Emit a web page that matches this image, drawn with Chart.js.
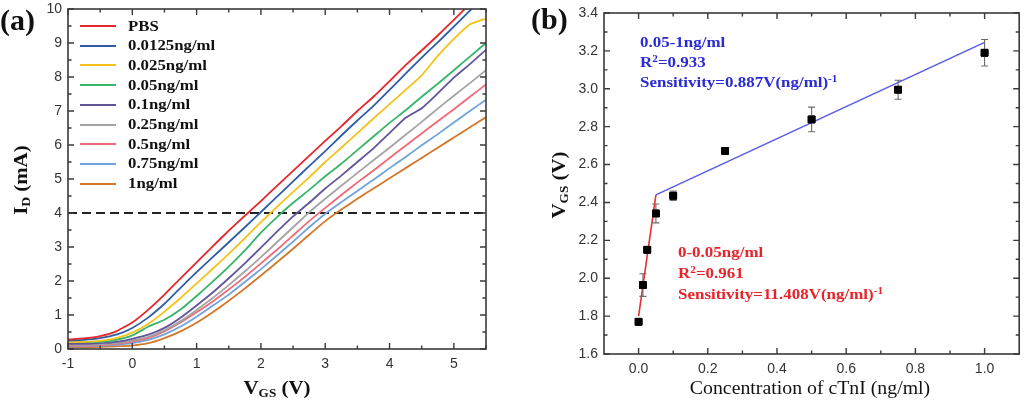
<!DOCTYPE html>
<html>
<head>
<meta charset="utf-8">
<script src="https://cdn.jsdelivr.net/npm/chart.js@4.4.0/dist/chart.umd.min.js"></script>
<style>
  html, body { margin: 0; padding: 0; background: #fff; }
  #wrap { position: relative; width: 1025px; height: 402px; overflow: hidden; font-family: "Liberation Serif", "Times New Roman", serif; color: #111; }
  canvas { position: absolute; top: 0; }
  #ca { left: 0; }
  #cb { left: 520px; }
  .txt { position: absolute; white-space: nowrap; line-height: 1; }
  .panel { font-weight: bold; font-size: 30px; }
  .ttl { font-weight: bold; font-size: 19px; transform: translate(-50%, -50%) scaleX(1.1); }
  .ttl.rot { transform: translate(-50%, -50%) rotate(-90deg) scaleX(1.1); }
  .ttl.plain { font-weight: normal; font-size: 18px; }
  .ttl sub { font-size: 12px; vertical-align: -3px; }
  #legendA { position: absolute; left: 80px; top: 16px; }
  .lg-row { position: absolute; left: 0; height: 20px; display: flex; align-items: center; white-space: nowrap; }
  .sw { display: inline-block; width: 36px; height: 2px; margin-right: 12px; }
  .lt { display: inline-block; font-weight: bold; font-size: 15px; transform: scaleX(1.12); transform-origin: left center; }
  .note { position: absolute; font-weight: bold; font-size: 15px; line-height: 20px; white-space: nowrap; transform: scaleX(1.13); transform-origin: left top; }
  .note sup { font-size: 10px; vertical-align: 5px; line-height: 0; }
</style>
</head>
<body>
<div id="wrap">
  <canvas id="ca" width="520" height="402"></canvas>
  <canvas id="cb" width="505" height="402"></canvas>

  <div class="txt panel" style="left:0px;top:5px;">(a)</div>
  <div class="txt panel" style="left:531px;top:4px;">(b)</div>

  <div class="txt ttl rot" style="left:21px;top:180px;">I<sub>D</sub> (mA)</div>
  <div class="txt ttl" style="left:277px;top:388px;">V<sub>GS</sub> (V)</div>
  <div class="txt ttl rot" style="left:559px;top:185px;">V<sub>GS</sub> (V)</div>
  <div class="txt ttl plain" style="left:810px;top:388px;">Concentration of cTnI (ng/ml)</div>

  <div id="legendA"></div>

  <div class="note" style="left:640px;top:32px;color:#2a2ad6;">
    0.05-1ng/ml<br>R<sup>2</sup>=0.933<br>Sensitivity=0.887V(ng/ml)<sup>-1</sup>
  </div>
  <div class="note" style="left:678px;top:242px;color:#e8232a;line-height:21px;">
    0-0.05ng/ml<br>R<sup>2</sup>=0.961<br>Sensitivity=11.408V(ng/ml)<sup>-1</sup>
  </div>
</div>

<script>
// ---- panel (a): transfer curves I_D vs V_GS ----
const vgs = [-1, -0.75, -0.5, -0.25, 0, 0.25, 0.5, 0.75, 1, 1.25, 1.5, 1.75, 2, 2.25, 2.5,
             2.75, 3, 3.25, 3.5, 3.75, 4, 4.25, 4.5, 4.75, 5, 5.25, 5.5];

const idPBS    = [0.28, 0.31, 0.38, 0.52, 0.78, 1.16, 1.60, 2.08, 2.55, 3.02, 3.48, 3.92, 4.35, 4.80, 5.24,
                  5.68, 6.12, 6.55, 7.00, 7.42, 7.88, 8.35, 8.78, 9.22, 9.68, 10.15, 10.60];
const id00125  = [0.25, 0.27, 0.32, 0.42, 0.62, 0.93, 1.33, 1.80, 2.26, 2.70, 3.14, 3.58, 4.03, 4.48, 4.93,
                  5.38, 5.82, 6.28, 6.72, 7.15, 7.62, 8.10, 8.57, 9.02, 9.48, 9.95, 10.40];
const id0025   = [0.20, 0.21, 0.24, 0.32, 0.48, 0.74, 1.10, 1.50, 1.93, 2.36, 2.80, 3.26, 3.73, 4.18, 4.62,
                  5.05, 5.50, 5.92, 6.35, 6.78, 7.20, 7.62, 8.05, 8.62, 9.12, 9.55, 9.72];
const id005    = [0.20, 0.20, 0.21, 0.27, 0.40, 0.66, 0.86, 1.16, 1.56, 1.98, 2.42, 2.90, 3.42, 3.88, 4.30,
                  4.68, 5.08, 5.45, 5.85, 6.25, 6.65, 7.02, 7.42, 7.80, 8.20, 8.60, 9.00];
const id01     = [0.15, 0.15, 0.17, 0.21, 0.30, 0.42, 0.62, 0.92, 1.28, 1.66, 2.08, 2.52, 2.98, 3.45, 3.90,
                  4.30, 4.72, 5.10, 5.50, 5.90, 6.35, 6.80, 7.08, 7.52, 7.98, 8.38, 8.80];
const id025    = [0.12, 0.12, 0.13, 0.17, 0.25, 0.36, 0.55, 0.82, 1.15, 1.50, 1.88, 2.28, 2.70, 3.14, 3.58,
                  4.02, 4.42, 4.80, 5.18, 5.55, 5.92, 6.30, 6.68, 7.07, 7.45, 7.82, 8.20];
const id05     = [0.10, 0.10, 0.11, 0.15, 0.22, 0.33, 0.52, 0.78, 1.08, 1.40, 1.75, 2.12, 2.52, 2.92, 3.34,
                  3.76, 4.15, 4.53, 4.90, 5.25, 5.62, 5.98, 6.34, 6.70, 7.05, 7.42, 7.78];
const id075    = [0.08, 0.08, 0.09, 0.12, 0.17, 0.27, 0.43, 0.66, 0.95, 1.27, 1.60, 1.97, 2.35, 2.75, 3.16,
                  3.58, 3.98, 4.32, 4.65, 4.98, 5.32, 5.65, 5.99, 6.32, 6.66, 7.00, 7.33];
const id1      = [0.05, 0.05, 0.06, 0.08, 0.10, 0.17, 0.32, 0.52, 0.77, 1.08, 1.42, 1.78, 2.16, 2.55, 2.95,
                  3.36, 3.76, 4.10, 4.42, 4.72, 5.02, 5.32, 5.62, 5.92, 6.22, 6.52, 6.82];

const seriesLabels = ['PBS', '0.0125ng/ml', '0.025ng/ml', '0.05ng/ml', '0.1ng/ml',
                      '0.25ng/ml', '0.5ng/ml', '0.75ng/ml', '1ng/ml'];
const seriesValues = [idPBS, id00125, id0025, id005, id01, id025, id05, id075, id1];
const seriesColors = ['#e5262b', '#2f5ea6', '#f5c21b', '#36b56b', '#64559b',
                      '#a4a4a4', '#f06a78', '#70a3db', '#d4772b'];

const refCurrent = 4; // dashed line, mA
const xTicksA = [-1, 0, 1, 2, 3, 4, 5];
const xMinorA = [-0.5, 0.5, 1.5, 2.5, 3.5, 4.5, 5.5];
const yTicksA = [0, 1, 2, 3, 4, 5, 6, 7, 8, 9, 10];
const yMinorA = [0.5, 1.5, 2.5, 3.5, 4.5, 5.5, 6.5, 7.5, 8.5, 9.5];

// ---- panel (b): V_GS vs concentration ----
const conc    = [0, 0.0125, 0.025, 0.05, 0.1, 0.25, 0.5, 0.75, 1.0];
const vgsMean = [1.77, 1.964, 2.15, 2.342, 2.435, 2.672, 2.838, 2.995, 3.19];
const vgsErr  = [0.012, 0.06, 0.012, 0.05, 0.025, 0.015, 0.065, 0.05, 0.07];
const lowFitX  = [0, 0.05];
const lowFitY  = [1.80, 2.44];
const highFitX = [0.05, 1.0];
const highFitY = [2.44, 3.245];
const xTicksB = [0, 0.2, 0.4, 0.6, 0.8, 1.0];
const xMinorB = [0.1, 0.3, 0.5, 0.7, 0.9];
const yTicksB = [1.6, 1.8, 2.0, 2.2, 2.4, 2.6, 2.8, 3.0, 3.2, 3.4];
const yMinorB = [1.7, 1.9, 2.1, 2.3, 2.5, 2.7, 2.9, 3.1, 3.3];

Chart.defaults.font.family = '"Liberation Sans", Arial, sans-serif';
Chart.defaults.font.size = 14;
Chart.defaults.color = '#333';

// inward ticks on all four sides + box frame (Origin style)
const frameTicks = {
  id: 'frameTicks',
  afterDraw(chart, args, opts) {
    const { ctx, chartArea: a, scales: { x, y } } = chart;
    ctx.save();
    ctx.strokeStyle = '#3a3a3a';
    ctx.lineWidth = 1.6;
    ctx.strokeRect(a.left, a.top, a.right - a.left, a.bottom - a.top);
    ctx.lineWidth = 1.4;
    ctx.beginPath();
    const xt = (v, len) => {
      const px = x.getPixelForValue(v);
      ctx.moveTo(px, a.bottom); ctx.lineTo(px, a.bottom - len);
      ctx.moveTo(px, a.top); ctx.lineTo(px, a.top + len);
    };
    const yt = (v, len) => {
      const py = y.getPixelForValue(v);
      ctx.moveTo(a.left, py); ctx.lineTo(a.left + len, py);
      ctx.moveTo(a.right, py); ctx.lineTo(a.right - len, py);
    };
    opts.xMajor.forEach(v => xt(v, 6));
    opts.xMinor.forEach(v => xt(v, 3.5));
    opts.yMajor.forEach(v => yt(v, 6));
    opts.yMinor.forEach(v => yt(v, 3.5));
    ctx.stroke();
    ctx.restore();
  }
};

// vertical error bars for panel (b)
const errorBars = {
  id: 'errorBars',
  afterDatasetsDraw(chart) {
    const { ctx, scales: { x, y } } = chart;
    ctx.save();
    ctx.strokeStyle = '#6a6a6a';
    ctx.lineWidth = 1.1;
    ctx.beginPath();
    conc.forEach((c, i) => {
      const px = x.getPixelForValue(c);
      const top = y.getPixelForValue(vgsMean[i] + vgsErr[i]);
      const bot = y.getPixelForValue(vgsMean[i] - vgsErr[i]);
      ctx.moveTo(px, top); ctx.lineTo(px, bot);
      ctx.moveTo(px - 3.5, top); ctx.lineTo(px + 3.5, top);
      ctx.moveTo(px - 3.5, bot); ctx.lineTo(px + 3.5, bot);
    });
    ctx.stroke();
    ctx.restore();
    // redraw markers on top of the bars
    const meta = chart.getDatasetMeta(0);
    meta.data.forEach(pt => pt.draw(ctx, chart.chartArea));
  }
};

function fixedAxis(size, isX) {
  return s => {
    if (isX) s.height = size; else s.width = size;
    s.paddingTop = 0; s.paddingBottom = 0; s.paddingLeft = 0; s.paddingRight = 0;
  };
}

function pts(xs, ys) {
  return xs.map((v, i) => ({ x: v, y: ys[i] }));
}

// chart (a)
const dsA = seriesValues.map((vals, i) => ({
  label: seriesLabels[i],
  data: pts(vgs, vals),
  borderColor: seriesColors[i],
  borderWidth: 1.8,
  pointRadius: 0,
  tension: 0.15,
  fill: false,
}));
dsA.push({
  label: 'ref',
  data: pts([xTicksA[0], 5.5], [refCurrent, refCurrent]),
  borderColor: '#222',
  borderWidth: 2,
  borderDash: [9, 5],
  pointRadius: 0,
  fill: false,
});

new Chart(document.getElementById('ca'), {
  type: 'line',
  data: { datasets: dsA },
  plugins: [frameTicks],
  options: {
    responsive: false,
    animation: false,
    layout: { padding: { left: 0, right: 34, top: 9, bottom: 0 } },
    plugins: {
      legend: { display: false },
      tooltip: { enabled: false },
      frameTicks: { xMajor: xTicksA, xMinor: xMinorA, yMajor: yTicksA, yMinor: yMinorA },
    },
    scales: {
      x: {
        type: 'linear', min: -1, max: 5.5,
        afterBuildTicks: s => { s.ticks = xTicksA.map(v => ({ value: v })); },
        afterFit: fixedAxis(53, true),
        grid: { display: false, drawTicks: false },
        border: { display: false },
        ticks: { padding: 7, callback: v => String(v) },
      },
      y: {
        type: 'linear', min: 0, max: 10,
        afterBuildTicks: s => { s.ticks = yTicksA.map(v => ({ value: v })); },
        afterFit: fixedAxis(68, false),
        grid: { display: false, drawTicks: false },
        border: { display: false },
        ticks: { padding: 6, callback: v => String(v) },
      },
    },
  },
});

// chart (b)
new Chart(document.getElementById('cb'), {
  type: 'line',
  data: {
    datasets: [
      {
        label: 'VGS',
        data: pts(conc, vgsMean),
        showLine: false,
        pointStyle: 'rect',
        pointRadius: 4.8,
        pointBackgroundColor: '#000',
        pointBorderColor: '#000',
        order: 0,
      },
      {
        label: 'fit 0.05-1',
        data: pts(highFitX, highFitY),
        borderColor: '#5b5bea',
        borderWidth: 1.6,
        pointRadius: 0,
        order: 1,
      },
      {
        label: 'fit 0-0.05',
        data: pts(lowFitX, lowFitY),
        borderColor: '#ec2f34',
        borderWidth: 1.6,
        pointRadius: 0,
        order: 1,
      },
    ],
  },
  plugins: [errorBars, frameTicks],
  options: {
    responsive: false,
    animation: false,
    layout: { padding: { left: 0, right: 3, top: 13, bottom: 0 } },
    plugins: {
      legend: { display: false },
      tooltip: { enabled: false },
      frameTicks: { xMajor: xTicksB, xMinor: xMinorB, yMajor: yTicksB, yMinor: yMinorB },
    },
    scales: {
      x: {
        type: 'linear', min: -0.1, max: 1.1,
        afterBuildTicks: s => { s.ticks = xTicksB.map(v => ({ value: v })); },
        afterFit: fixedAxis(48, true),
        grid: { display: false, drawTicks: false },
        border: { display: false },
        ticks: { padding: 7, callback: v => Number(v).toFixed(1) },
      },
      y: {
        type: 'linear', min: 1.6, max: 3.4,
        afterBuildTicks: s => { s.ticks = yTicksB.map(v => ({ value: v })); },
        afterFit: fixedAxis(84, false),
        grid: { display: false, drawTicks: false },
        border: { display: false },
        ticks: { padding: 6, callback: v => Number(v).toFixed(1) },
      },
    },
  },
});

// legend for (a)
const legend = document.getElementById('legendA');
seriesLabels.forEach((lab, i) => {
  const row = document.createElement('div');
  row.className = 'lg-row';
  row.style.top = (i * 19.7) + 'px';
  row.innerHTML = `<span class="sw" style="background:${seriesColors[i]}"></span><span class="lt">${lab}</span>`;
  legend.appendChild(row);
});
</script>
</body>
</html>
